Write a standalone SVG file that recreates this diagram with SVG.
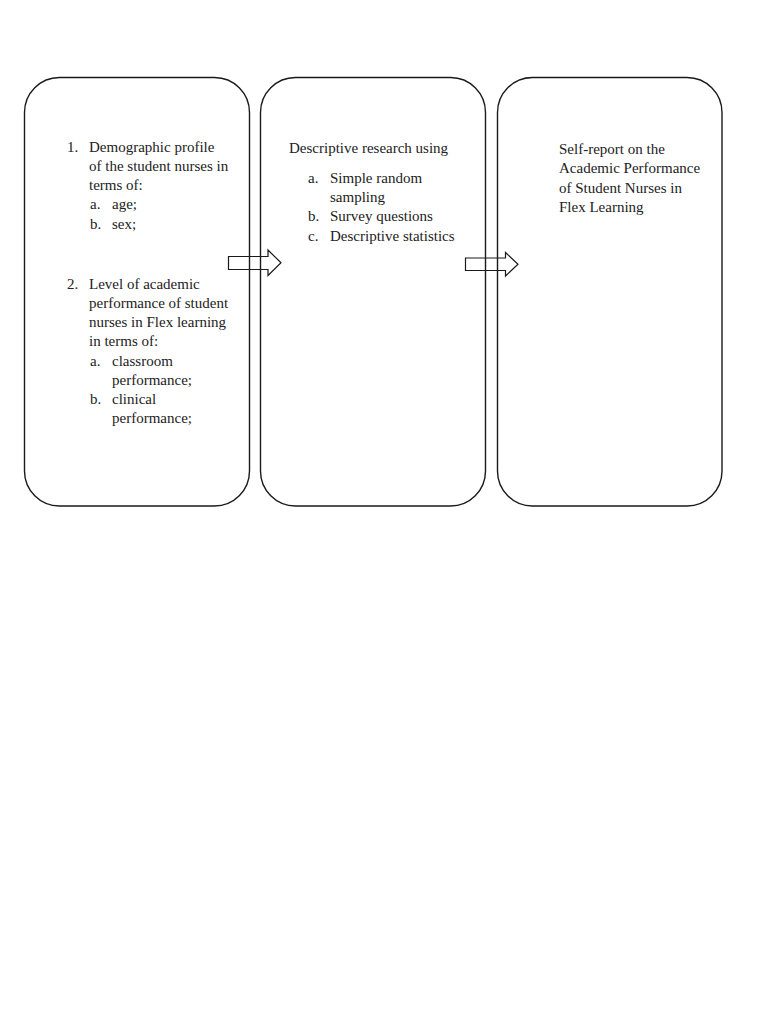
<svg xmlns="http://www.w3.org/2000/svg" width="768" height="1024" viewBox="0 0 768 1024">
<style>
.box{fill:none;stroke:#1a1a1a;stroke-width:1.4}
.arr{fill:none;stroke:#1a1a1a;stroke-width:1.2;stroke-linejoin:miter}
text{font-family:"Liberation Serif","Times New Roman",serif;font-size:15px;fill:#222}
</style>
<rect width="768" height="1024" fill="#fff"/>
<g id="node1">
<rect class="box" x="24.5" y="77.5" width="225" height="428.5" rx="35" ry="35"/>
<text x="67" y="152">1.</text><text x="89" y="152">Demographic profile</text>
<text x="89" y="171">of the student nurses in</text>
<text x="89" y="190">terms of:</text>
<text x="90" y="209">a.</text><text x="112" y="209">age;</text>
<text x="90" y="229">b.</text><text x="112" y="229">sex;</text>
<text x="67" y="289">2.</text><text x="89" y="289">Level of academic</text>
<text x="89" y="308">performance of student</text>
<text x="89" y="327">nurses in Flex learning</text>
<text x="89" y="346">in terms of:</text>
<text x="90" y="366">a.</text><text x="112" y="366">classroom</text>
<text x="112" y="385">performance;</text>
<text x="90" y="404">b.</text><text x="112" y="404">clinical</text>
<text x="112" y="423">performance;</text>
</g>
<g id="node2">
<rect class="box" x="260.5" y="77.5" width="225" height="428.5" rx="35" ry="35"/>
<text x="289" y="153">Descriptive research using</text>
<text x="308" y="183">a.</text><text x="330" y="183">Simple random</text>
<text x="330" y="202">sampling</text>
<text x="308" y="221">b.</text><text x="330" y="221">Survey questions</text>
<text x="308" y="241">c.</text><text x="330" y="241">Descriptive statistics</text>
</g>
<g id="node3">
<rect class="box" x="497.5" y="77.5" width="224.5" height="428.5" rx="35" ry="35"/>
<text x="559" y="154">Self-report on the</text>
<text x="559" y="173">Academic Performance</text>
<text x="559" y="193">of Student Nurses in</text>
<text x="559" y="212">Flex Learning</text>
</g>
<g id="connectors">
<polygon class="arr" points="228.5,256.5 268,256.5 268,250 281,262.8 268,275.5 268,269.5 228.5,269.5"/>
<polygon class="arr" points="465.5,258 505.5,258 505.5,252.5 518,264.3 505.5,276 505.5,270.5 465.5,270.5"/>
</g>
</svg>
